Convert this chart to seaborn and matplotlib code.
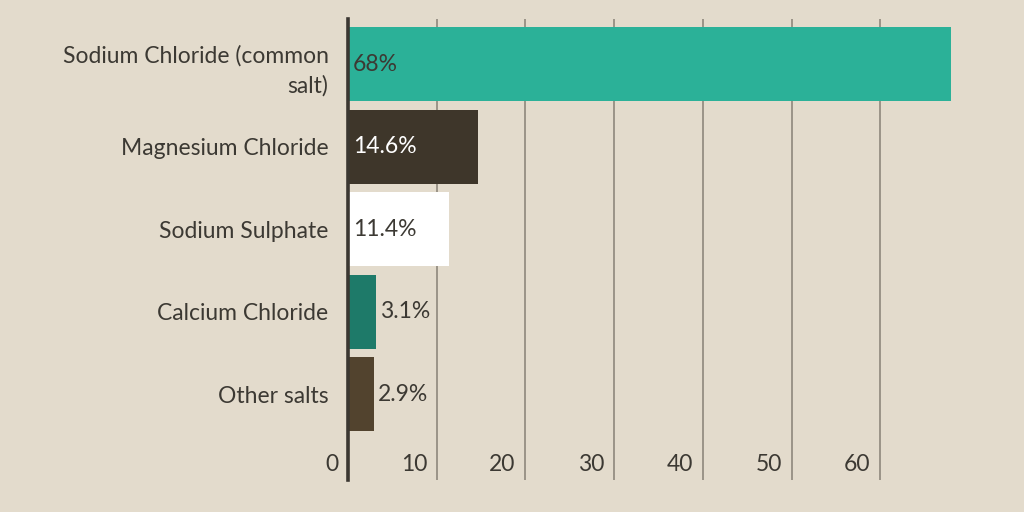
import matplotlib
matplotlib.use("Agg")
import matplotlib.pyplot as plt
import matplotlib.transforms as mtransforms
import seaborn as sns
import pandas as pd

# ---- data ----
categories = ["Sodium Chloride (common\nsalt)", "Magnesium Chloride", "Sodium Sulphate",
              "Calcium Chloride", "Other salts"]
values = [68, 14.6, 11.4, 3.1, 2.9]
value_labels = ["68%", "14.6%", "11.4%", "3.1%", "2.9%"]
x_ticks = [0, 10, 20, 30, 40, 50, 60]
x_tick_labels = ["0", "10", "20", "30", "40", "50", "60"]

# ---- style ----
bg = "#E3DBCC"
text_col = "#3C3933"
bar_colors = ["#2BB198", "#3E362A", "#FFFFFF", "#1E7A69", "#52432E"]
label_colors = ["#3C3933", "#FFFFFF", "#3C3933", "#3C3933", "#3C3933"]
grid_col = "#9B9488"
fs = 16.5

sns.set_theme(style="white")
plt.rcParams["font.family"] = ["Lato", "DejaVu Sans"]

df = pd.DataFrame({"category": categories, "value": values})

fig = plt.figure(figsize=(10.24, 5.12), dpi=100, facecolor=bg)
ax = fig.add_axes([348 / 1024, 32 / 512, 621 / 1024, 461 / 512])
ax.set_facecolor(bg)

sns.barplot(data=df, y="category", x="value", hue="category", palette=bar_colors,
            orient="h", width=0.9, legend=False, ax=ax, saturation=1,
            edgecolor="none", zorder=3)

ax.set_xlim(0, 70)
ax.set_ylim(5.04, -0.55)
ax.set_xlabel("")
ax.set_ylabel("")

# gridlines
for t in x_ticks[1:]:
    ax.axvline(t, color=grid_col, lw=1.4, zorder=1)

# spines
for s in ["top", "right", "bottom"]:
    ax.spines[s].set_visible(False)
ax.spines["left"].set_color("#3B3731")
ax.spines["left"].set_linewidth(2.6)
ax.spines["left"].set_zorder(5)

# y tick labels
ax.tick_params(axis="y", length=0, pad=14, labelsize=fs, labelcolor=text_col)
for lab in ax.get_yticklabels():
    lab.set_linespacing(1.5)
    lab.set_ha("right")
ax.set_xticks([])

# x tick labels inside bottom
trans = mtransforms.blended_transform_factory(ax.transData, ax.transAxes)
for t, lab in zip(x_ticks, x_tick_labels):
    ax.annotate(lab, xy=(t, 0), xycoords=trans, xytext=(-7, 11), textcoords="offset points",
                ha="right", va="center", fontsize=fs, color=text_col)

# value labels
for i, (v, lab, c) in enumerate(zip(values, value_labels, label_colors)):
    if v > 10:
        ax.annotate(lab, xy=(0, i), xytext=(3.5, 0), textcoords="offset points",
                    ha="left", va="center", fontsize=fs, color=c, zorder=6)
    else:
        ax.annotate(lab, xy=(v, i), xytext=(3, 0), textcoords="offset points",
                    ha="left", va="center", fontsize=fs, color=c, zorder=6)

fig.savefig("out.png", dpi=100, facecolor=bg)
